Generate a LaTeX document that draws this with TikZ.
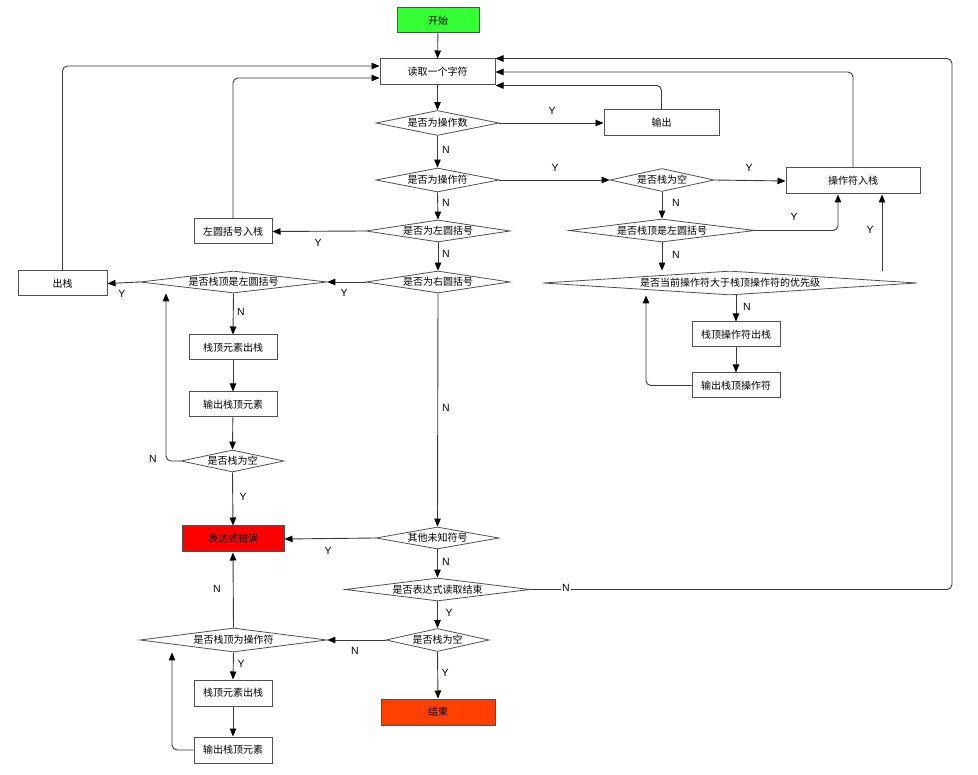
\documentclass[tikz,border=0pt]{standalone}
\usepackage{fontspec}
\setmainfont{Liberation Sans}
\newfontfamily\cjk{Noto Sans CJK SC}
\usetikzlibrary{shapes.geometric,arrows.meta,calc}
\definecolor{startgreen}{HTML}{33FF33}
\definecolor{errred}{HTML}{FF0000}
\definecolor{endorange}{HTML}{FF4000}
\definecolor{linegray}{HTML}{3A3A3A}
\definecolor{boxgray}{HTML}{505050}
\begin{document}
\begin{tikzpicture}[x=1pt,y=-1pt,
  box/.style={rectangle,draw=boxgray,line width=1pt,inner sep=0pt,font=\cjk\fontsize{10}{12}\selectfont},
  dia/.style={diamond,draw=boxgray,line width=0.8pt,inner sep=0pt,aspect=1,font=\cjk\fontsize{10}{12}\selectfont},
  arr/.style={draw=linegray,line width=0.9pt,-{Triangle[length=8pt,width=6.5pt,color=black]},rounded corners=5pt},
  yn/.style={font=\fontsize{10.5}{12}\selectfont,inner sep=1pt}]
\useasboundingbox[fill=white] (0,0) rectangle (978,775);
% nodes
\node[box,fill=startgreen,minimum width=82,minimum height=25] (start) at (438,20.5) {开始};
\node[box,minimum width=115,minimum height=26] (read) at (437.5,72) {读取一个字符};
\node[dia,minimum width=123,minimum height=25] (d1) at (437.5,123) {\makebox[0pt]{是否为操作数}};
\node[box,minimum width=115,minimum height=26] (out) at (661.5,123) {输出};
\node[dia,minimum width=123,minimum height=24] (d2) at (437.5,180) {\makebox[0pt]{是否为操作符}};
\node[dia,minimum width=104,minimum height=23] (d3) at (662,180) {\makebox[0pt]{是否栈为空}};
\node[box,minimum width=134,minimum height=26] (push) at (853,181) {操作符入栈};
\node[dia,minimum width=186,minimum height=23] (d4) at (662,230.5) {\makebox[0pt]{是否栈顶是左圆括号}};
\node[dia,minimum width=374,minimum height=24] (d5) at (730,283) {\makebox[0pt]{是否当前操作符大于栈顶操作符的优先级}};
\node[box,minimum width=88,minimum height=25] (pop1) at (736,334.5) {栈顶操作符出栈};
\node[box,minimum width=88,minimum height=25] (outop) at (736,385.5) {输出栈顶操作符};
\node[box,minimum width=78,minimum height=25] (lpush) at (233,231.5) {左圆括号入栈};
\node[dia,minimum width=144,minimum height=22] (d6) at (438,231) {\makebox[0pt]{是否为左圆括号}};
\node[dia,minimum width=144,minimum height=22] (d7) at (438,282) {\makebox[0pt]{是否为右圆括号}};
\node[dia,minimum width=187,minimum height=22] (d8) at (233.5,282) {\makebox[0pt]{是否栈顶是左圆括号}};
\node[box,minimum width=89,minimum height=25] (popL) at (62.5,283.5) {出栈};
\node[box,minimum width=88,minimum height=25] (pop2) at (233,347.5) {栈顶元素出栈};
\node[box,minimum width=88,minimum height=25] (out2) at (233,404.5) {输出栈顶元素};
\node[dia,minimum width=103,minimum height=22] (d9) at (232.5,461) {\makebox[0pt]{是否栈为空}};
\node[box,fill=errred,minimum width=102,minimum height=26] (err) at (233,539) {表达式错误};
\node[dia,minimum width=123,minimum height=22] (d10) at (437.5,538) {\makebox[0pt]{其他未知符号}};
\node[dia,minimum width=185,minimum height=23] (d11) at (437.5,589.5) {\makebox[0pt]{是否表达式读取结束}};
\node[dia,minimum width=103,minimum height=23] (d12) at (437.5,640) {\makebox[0pt]{是否栈为空}};
\node[box,fill=endorange,minimum width=114,minimum height=26] (finish) at (438,712) {结束};
\node[dia,minimum width=187,minimum height=24] (d13) at (233.5,640) {\makebox[0pt]{是否栈顶为操作符}};
\node[box,minimum width=78,minimum height=26] (pop3) at (233,693) {栈顶元素出栈};
\node[box,minimum width=78,minimum height=26] (out3) at (233,750) {输出栈顶元素};
% helper coordinates
\coordinate (pa) at (838,0);
\coordinate (pb) at (646,0);
\coordinate (pc) at (882,0);
\coordinate (pd) at (952,0);
\coordinate (pe) at (166,0);
\coordinate (pf) at (172,0);
% connectors
\draw[arr] (start) -- (read);
\draw[arr] (read) -- (d1);
\draw[arr] (d1.east) -- (out.west);
\draw[arr] (d1.south) -- (d2.north);
\draw[arr] (d2.east) -- (d3.west);
\draw[arr] (d3.east) -- (push.west);
\draw[arr] (d3.south) -- (d4.north);
\draw[arr] (d4.east) -| (pa |- push.south);
\draw[arr] (d4.south) -- (d4.south |- d5.north);
\draw[arr] (pop1.north |- d5.south) -- (pop1.north);
\draw[arr] (pop1) -- (outop);
\draw[arr] (outop.west) -| (pb |- d5.south);
\draw[arr] (pc |- d5.north) -- (pc |- push.south);
\draw[arr] (out.north) |- (read.south east);
\draw[arr] (push.north) |- (read.east);
\draw[arr] (d11.east) -| (pd |- read.north east) -- (read.north east);
\draw[arr] (d2.south) -- (d6.north);
\draw[arr] (d6.west) -- (lpush.east);
\draw[arr] (lpush.north) |- ($(read.west)+(0,6)$);
\draw[arr] (d6.south) -- (d7.north);
\draw[arr] (d7.west) -- (d8.east);
\draw[arr] (d8.west) -- (popL.east);
\draw[arr] (popL.north) |- ($(read.west)+(0,-6)$);
\draw[arr] (d8.south) -- (pop2.north);
\draw[arr] (pop2) -- (out2);
\draw[arr] (out2) -- (d9.north);
\draw[arr] (d9.west) -| (pe |- d8.south);
\draw[arr] (d9.south) -- (err.north);
\draw[arr] (d7.south) -- (d10.north);
\draw[arr] (d10.west) -- (err.east);
\draw[arr] (d10.south) -- (d11.north);
\draw[arr] (d11.south) -- (d12.north);
\draw[arr] (d12.west) -- (d13.east);
\draw[arr] (d12.south) -- (finish.north);
\draw[arr] (d13.north) -- (err.south);
\draw[arr] (d13.south) -- (pop3.north);
\draw[arr] (pop3) -- (out3);
\draw[arr] (out3.west) -| (pf |- d13.south);
% labels
\node[yn] (l1) at (552,111) {Y};
\node[yn] (l2) at (446,150) {N};
\node[yn] (l3) at (555,168) {Y};
\node[yn] (l4) at (749,168) {Y};
\node[yn] (l5) at (676,203) {N};
\node[yn] (l6) at (794,217) {Y};
\node[yn] (l7) at (676,255) {N};
\node[yn] (l8) at (870,230) {Y};
\node[yn] (l9) at (747,307) {N};
\node[yn] (l10) at (318,243) {Y};
\node[yn] (l11) at (446,203) {N};
\node[yn] (l12) at (446,254) {N};
\node[yn] (l13) at (344,293) {Y};
\node[yn] (l14) at (122,294) {Y};
\node[yn] (l15) at (241,312) {N};
\node[yn] (l16) at (153,459) {N};
\node[yn] (l17) at (243,497) {Y};
\node[yn] (l18) at (446,408) {N};
\node[yn] (l19) at (328,551) {Y};
\node[yn] (l20) at (446,562) {N};
\node[yn,fill=white] (l21) at (566,588) {N};
\node[yn] (l22) at (449,613) {Y};
\node[yn] (l23) at (355,651) {N};
\node[yn] (l24) at (445,673) {Y};
\node[yn] (l25) at (217,589) {N};
\node[yn] (l26) at (241,664) {Y};
\end{tikzpicture}
\end{document}
